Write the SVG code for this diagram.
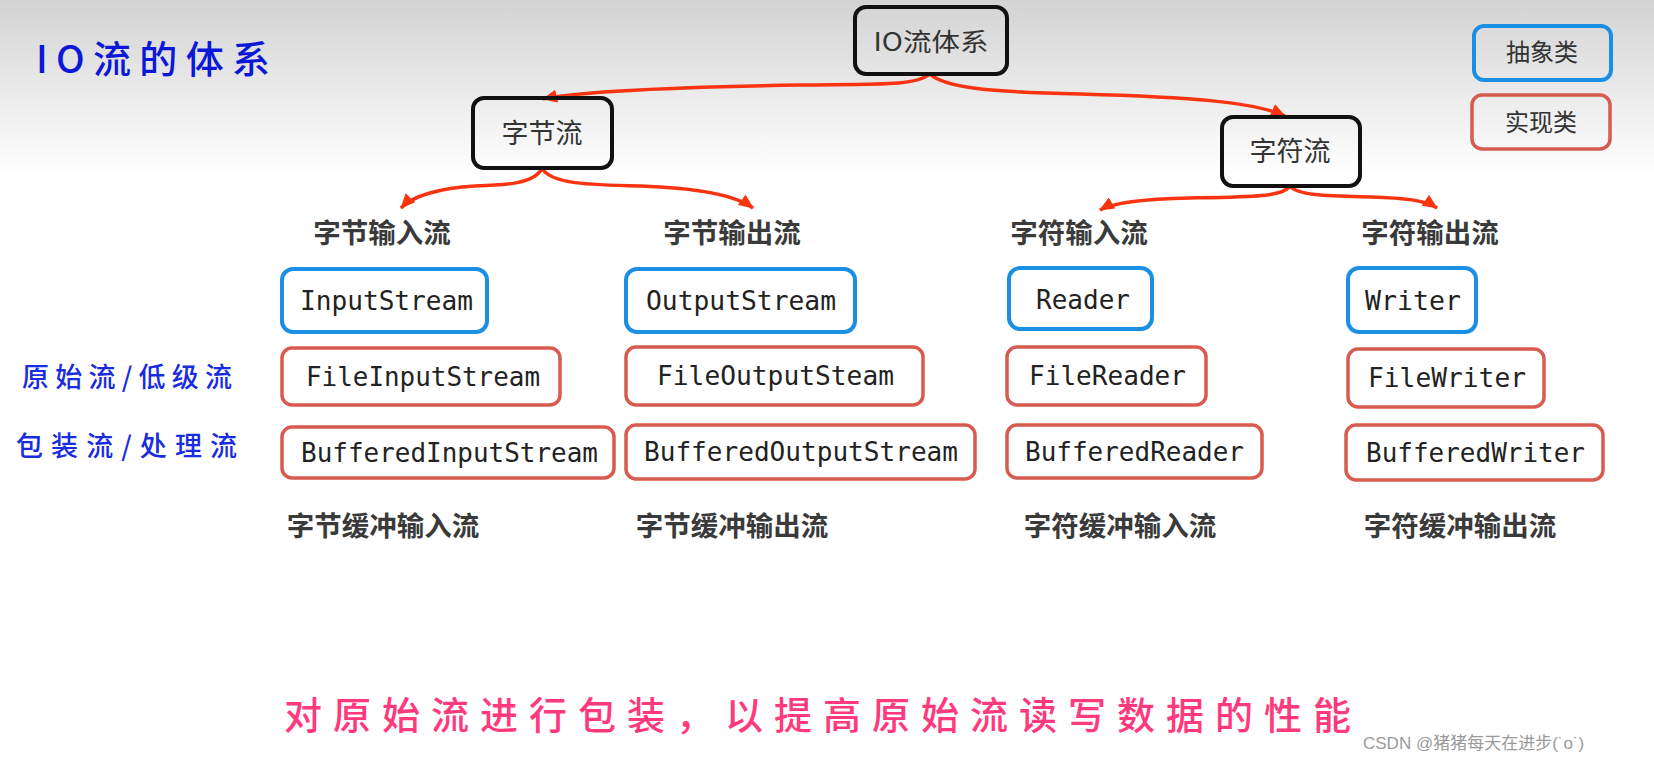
<svg xmlns="http://www.w3.org/2000/svg" width="1654" height="763" viewBox="0 0 1654 763">
<style>
.box{fill:none;stroke-width:3.5}
.blk{stroke:#111;stroke-width:4}
.blue{stroke:#1a8fe3;stroke-width:4}
.red{stroke:#d75b4f}
.cn{font-family:"Noto Sans CJK SC",sans-serif;fill:#333;text-anchor:middle}
.hd{font-family:"Noto Sans CJK SC",sans-serif;font-weight:700;fill:#3a3a3a;font-size:27.5px}
.mono{font-family:"DejaVu Sans Mono","Liberation Mono",monospace;font-size:27px;fill:#222}
.hand{font-family:"Noto Sans CJK SC",sans-serif;font-weight:500}
.conn{fill:none;stroke:#fa3311;stroke-width:3.5}
</style>
<defs>
<linearGradient id="bg" x1="0" y1="0" x2="0" y2="175" gradientUnits="userSpaceOnUse">
<stop offset="0" stop-color="#d3d3d3"/>
<stop offset="1" stop-color="#ffffff"/>
</linearGradient>
<marker id="ah" markerWidth="15" markerHeight="13" refX="14" refY="6.5" orient="auto" markerUnits="userSpaceOnUse">
<path d="M0,0 L15,6.5 L0,13 z" fill="#fa3311"/>
</marker>
</defs>
<rect x="0" y="0" width="1654" height="763" fill="#ffffff"/>
<rect x="0" y="0" width="1654" height="175" fill="url(#bg)"/>

<text x="36" y="73" class="hand" font-size="38" fill="#0b18d8" textLength="234" lengthAdjust="spacing">IO流的体系</text>
<text x="22" y="387" class="hand" font-size="27" fill="#1a2ce0" textLength="210" lengthAdjust="spacing">原始流/低级流</text>
<text x="16" y="456" class="hand" font-size="27" fill="#1a2ce0" textLength="221" lengthAdjust="spacing">包装流/处理流</text>

<g id="connectors">
<path class="conn" marker-end="url(#ah)" d="M930,74 C915,86 880,84 800,85 C680,87 580,91 543,99"/>
<path class="conn" marker-end="url(#ah)" d="M930,74 C945,88 990,92 1080,94 C1190,97 1255,102 1285,116"/>
<path class="conn" marker-end="url(#ah)" d="M542,168 C535,184 505,185 475,186 C440,188 412,196 401,208"/>
<path class="conn" marker-end="url(#ah)" d="M542,168 C550,184 590,185 640,186 C700,188 735,195 753,208"/>
<path class="conn" marker-end="url(#ah)" d="M1290,186 C1283,197 1250,197 1190,198 C1140,199 1112,203 1100,210"/>
<path class="conn" marker-end="url(#ah)" d="M1290,186 C1298,196 1330,196 1370,197 C1405,198 1425,200 1437,208"/>
</g>

<g id="io-root">
<rect class="box blk" x="855" y="7" width="152" height="67" rx="11"/>
<text class="cn" x="931" y="51" font-size="25" textLength="115" lengthAdjust="spacingAndGlyphs">IO流体系</text>
</g>
<g id="byte-stream">
<rect class="box blk" x="473" y="98" width="139" height="70" rx="11"/>
<text class="cn" x="542" y="143" font-size="27">字节流</text>
</g>
<g id="char-stream">
<rect class="box blk" x="1222" y="117" width="138" height="69" rx="11"/>
<text class="cn" x="1290" y="161" font-size="27">字符流</text>
</g>
<g id="legend-abstract">
<rect class="box blue" x="1474" y="26" width="137" height="54" rx="10"/>
<text class="cn" x="1542" y="61" font-size="24">抽象类</text>
</g>
<g id="legend-impl">
<rect class="box red" x="1472" y="95" width="138" height="54" rx="10" stroke="#c8605a"/>
<text class="cn" x="1541" y="131" font-size="24" fill="#111">实现类</text>
</g>

<g id="headers">
<text class="hd" x="382" y="243" text-anchor="middle">字节输入流</text>
<text class="hd" x="732" y="243" text-anchor="middle">字节输出流</text>
<text class="hd" x="1079" y="243" text-anchor="middle">字符输入流</text>
<text class="hd" x="1430" y="243" text-anchor="middle">字符输出流</text>
</g>

<g id="InputStream"><rect class="box blue" x="282" y="269" width="205" height="63" rx="11"/><text class="mono" x="300" y="310" textLength="173" lengthAdjust="spacingAndGlyphs">InputStream</text></g>
<g id="OutputStream"><rect class="box blue" x="626" y="269" width="229" height="63" rx="11"/><text class="mono" x="646" y="310" textLength="190" lengthAdjust="spacingAndGlyphs">OutputStream</text></g>
<g id="Reader"><rect class="box blue" x="1009" y="268" width="143" height="61" rx="11"/><text class="mono" x="1036" y="309" textLength="94" lengthAdjust="spacingAndGlyphs">Reader</text></g>
<g id="Writer"><rect class="box blue" x="1348" y="268" width="128" height="64" rx="11"/><text class="mono" x="1365" y="310" textLength="96" lengthAdjust="spacingAndGlyphs">Writer</text></g>

<g id="FileInputStream"><rect class="box red" x="282" y="348" width="278" height="57" rx="10"/><text class="mono" x="306" y="386" textLength="234" lengthAdjust="spacingAndGlyphs">FileInputStream</text></g>
<g id="FileOutputSteam"><rect class="box red" x="626" y="347" width="297" height="58" rx="10"/><text class="mono" x="657" y="385" textLength="237" lengthAdjust="spacingAndGlyphs">FileOutputSteam</text></g>
<g id="FileReader"><rect class="box red" x="1007" y="347" width="199" height="58" rx="10"/><text class="mono" x="1029" y="385" textLength="157" lengthAdjust="spacingAndGlyphs">FileReader</text></g>
<g id="FileWriter"><rect class="box red" x="1348" y="349" width="196" height="58" rx="10"/><text class="mono" x="1368" y="387" textLength="158" lengthAdjust="spacingAndGlyphs">FileWriter</text></g>

<g id="BufferedInputStream"><rect class="box red" x="282" y="427" width="332" height="51" rx="10"/><text class="mono" x="301" y="462" textLength="297" lengthAdjust="spacingAndGlyphs">BufferedInputStream</text></g>
<g id="BufferedOutputStream"><rect class="box red" x="626" y="425" width="349" height="54" rx="10"/><text class="mono" x="644" y="461" textLength="314" lengthAdjust="spacingAndGlyphs">BufferedOutputStream</text></g>
<g id="BufferedReader"><rect class="box red" x="1007" y="425" width="255" height="53" rx="10"/><text class="mono" x="1025" y="461" textLength="219" lengthAdjust="spacingAndGlyphs">BufferedReader</text></g>
<g id="BufferedWriter"><rect class="box red" x="1346" y="425" width="257" height="55" rx="10"/><text class="mono" x="1366" y="462" textLength="219" lengthAdjust="spacingAndGlyphs">BufferedWriter</text></g>

<g id="buffer-labels">
<text class="hd" x="383" y="536" text-anchor="middle" font-size="28">字节缓冲输入流</text>
<text class="hd" x="732" y="536" text-anchor="middle" font-size="28">字节缓冲输出流</text>
<text class="hd" x="1120" y="536" text-anchor="middle" font-size="28">字符缓冲输入流</text>
<text class="hd" x="1460" y="536" text-anchor="middle" font-size="28">字符缓冲输出流</text>
</g>

<text x="284" y="729" class="hand" font-size="38" fill="#ff3a7c" textLength="1067" lengthAdjust="spacing">对原始流进行包装，以提高原始流读写数据的性能</text>
<text x="1363" y="749" font-family="'Liberation Sans','Noto Sans CJK SC',sans-serif" font-size="17" fill="#9a9a9a">CSDN @猪猪每天在进步(˙o˙)</text>
</svg>
